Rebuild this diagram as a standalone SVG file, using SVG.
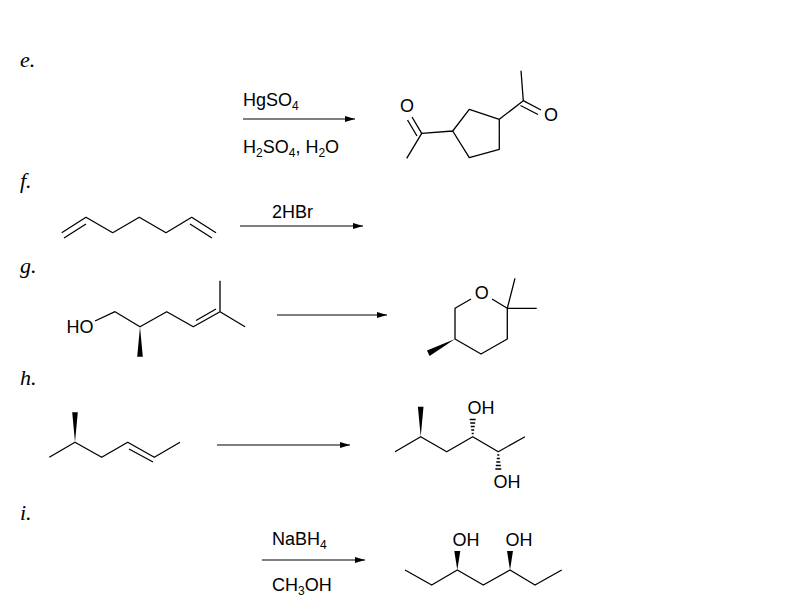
<svg xmlns="http://www.w3.org/2000/svg" width="803" height="616" viewBox="0 0 803 616">
<defs>
<marker id="ah" viewBox="0 0 10 6" refX="10" refY="3" markerWidth="10" markerHeight="6" markerUnits="userSpaceOnUse" orient="auto"><path d="M0,0L10,3L0,6Z" fill="#000"/></marker>
<style>
.b{stroke:#000;stroke-width:1.3;fill:none;stroke-linejoin:round}
.a{stroke:#000;stroke-width:1.1;fill:none}
.t{font-family:"Liberation Sans",Arial,sans-serif;font-size:18px;fill:#000}
.at{font-family:"Liberation Sans",Arial,sans-serif;font-size:18px;fill:#000;text-anchor:middle;dominant-baseline:central}
.l{font-family:"Liberation Serif","Times New Roman",serif;font-style:italic;font-size:22px;fill:#000}
.w{fill:#000}
</style>
</defs>
<rect width="803" height="616" fill="#fff"/>
<g id="labels">
<text class="l" x="20" y="67">e.</text>
<text class="l" x="20" y="188">f.</text>
<text class="l" x="20" y="273">g.</text>
<text class="l" x="20" y="385">h.</text>
<text class="l" x="20" y="520">i.</text>
</g>
<g id="connectors">
<line class="a" x1="243" y1="119" x2="355" y2="119" marker-end="url(#ah)"/>
<line class="a" x1="240" y1="226" x2="363" y2="226" marker-end="url(#ah)"/>
<line class="a" x1="277" y1="315" x2="387" y2="315" marker-end="url(#ah)"/>
<line class="a" x1="217" y1="445" x2="350" y2="445" marker-end="url(#ah)"/>
<line class="a" x1="262" y1="560" x2="365" y2="560" marker-end="url(#ah)"/>
</g>
<g id="reagents">
<text class="t" x="243" y="106">HgSO<tspan font-size="12" dy="4">4</tspan></text>
<text class="t" x="243" y="153">H<tspan font-size="12" dy="4">2</tspan><tspan dy="-4">SO</tspan><tspan font-size="12" dy="4">4</tspan><tspan dy="-4">, H</tspan><tspan font-size="12" dy="4">2</tspan><tspan dy="-4">O</tspan></text>
<text class="t" x="272" y="218">2HBr</text>
<text class="t" x="272" y="545">NaBH<tspan font-size="12" dy="4">4</tspan></text>
<text class="t" x="272" y="591">CH<tspan font-size="12" dy="4">3</tspan><tspan dy="-4">OH</tspan></text>
</g>
<g id="e-product">
<path class="b" d="M406.7,158.3L421.7,133.3L452.7,131L469.3,109.3L499.3,119.3L499.3,149.3L469.3,157.7L452.7,131"/>
<path class="b" d="M421.7,133.3L412,117M417,136L407.5,120"/>
<path class="b" d="M499.3,119.3L523.3,100.7L521,70.7M523.3,100.7L541,110M520.5,105.5L538,114.5"/>
<text class="at" x="407" y="106">O</text>
<text class="at" x="551" y="115">O</text>
</g>
<g id="f-reactant">
<path class="b" d="M61.7,232.7L86,217.3L112.7,232.7L139.3,217.3L166,232.7L191.7,217.3L216,232.7"/>
<path class="b" d="M64,238L86,224M190,224L212,238"/>
</g>
<g id="g-reactant">
<text class="at" x="80" y="327">HO</text>
<path class="b" d="M95,321L115,311.7L140,326.7L166.7,311.7L193.3,326.7L220,311.7L245,326.7M220,311.7L220,280.7M196,320.5L216,309"/>
<path class="w" d="M140,326.7L137.2,356.7L142.8,356.7Z"/>
</g>
<g id="g-product">
<text class="at" x="481.7" y="293.3">O</text>
<path class="b" d="M492,299L507.3,308.3L507.3,339L481,354L455,339L455,308.3L471,299M507.3,308.3L515,278.3M507.3,308.3L536.7,308.3"/>
<path class="w" d="M455,339L427,350.5L429.6,356.1Z"/>
</g>
<g id="h-reactant">
<path class="b" d="M49.3,457.3L75,442.3L101.7,457.3L127.7,442.3L154.3,457.3L180,442.3M129,449L153,462"/>
<path class="w" d="M75,442.3L72.2,412.3L77.8,412.3Z"/>
</g>
<g id="h-product">
<path class="b" d="M395,451.7L420.7,436.7L446.7,451.7L472.7,436.7L498.3,451.7L525,436.7"/>
<path class="w" d="M420.7,436.7L417.9,406.7L423.5,406.7Z"/>
<path class="b" d="M471.7,433.5h2M471.2,430h3M470.7,426.5h4M470.2,423h5M469.7,419.5h6"/>
<path class="b" d="M497.3,455h2M496.8,458.5h3M496.3,462h4M495.8,465.5h5M495.3,469h6"/>
<text class="at" x="481" y="408">OH</text>
<text class="at" x="507" y="482">OH</text>
</g>
<g id="i-product">
<path class="b" d="M405,570L431.7,585L457.3,570L483.3,585L510,570L535,585L561.7,570"/>
<path class="w" d="M457.3,570L454.3,551L460.3,551Z"/>
<path class="w" d="M510,570L507,551L513,551Z"/>
<text class="at" x="466" y="540">OH</text>
<text class="at" x="519" y="540">OH</text>
</g>
</svg>
